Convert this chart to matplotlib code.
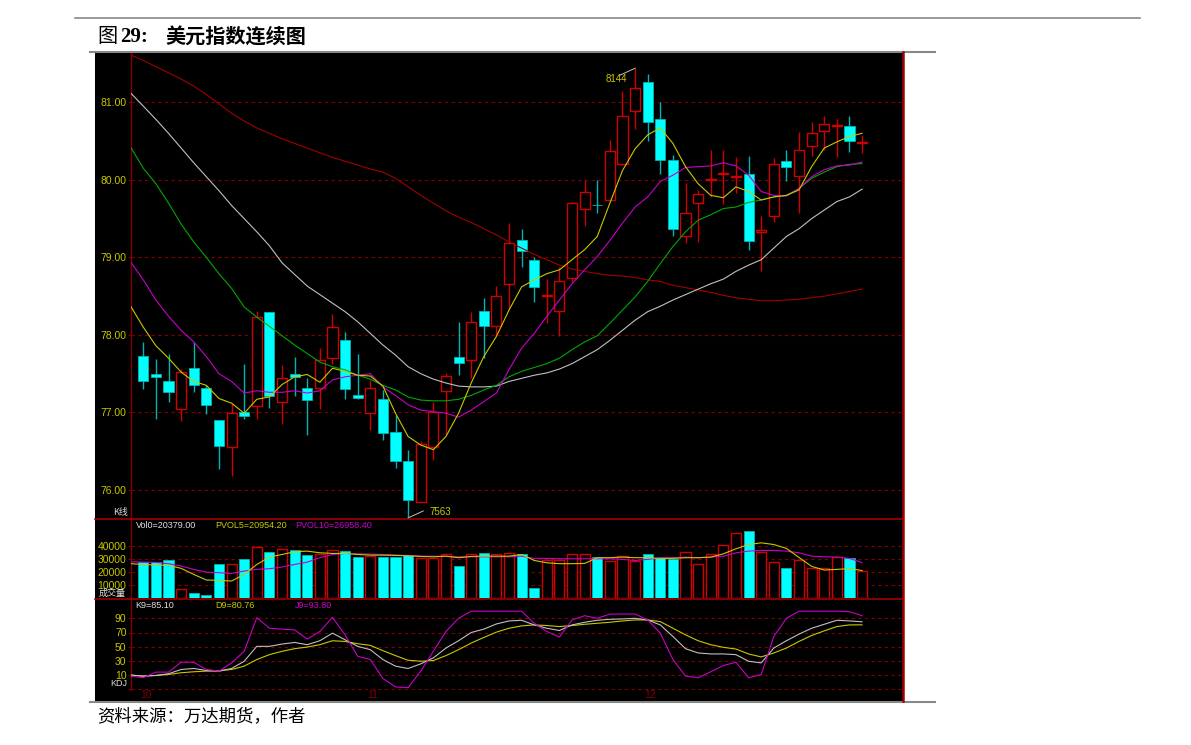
import matplotlib
matplotlib.use('Agg')
import matplotlib.pyplot as plt
import numpy as np
from matplotlib.patches import Rectangle
from matplotlib.lines import Line2D

W, H = 1191, 745
CJK = ['Noto Sans CJK SC', 'DejaVu Sans']
LAT = 'Liberation Sans'

# ---- Data ----
opens = [77.73, 77.49, 77.40, 77.05, 77.57, 77.32, 76.90, 76.55, 77.00, 77.08,
         78.30, 77.13, 77.50, 77.31, 77.32, 77.70, 77.94, 77.22, 76.99, 77.17,
         76.75, 76.37, 75.84, 76.56, 77.28, 77.72, 77.68, 78.31, 78.12, 78.66,
         79.23, 78.96, 78.50, 78.31, 78.73, 79.62, 79.68, 79.74, 80.20, 80.89,
         81.26, 80.78, 80.26, 79.28, 79.70, 80.00, 80.07, 80.04, 80.08, 79.33,
         79.53, 80.24, 80.05, 80.44, 80.63, 80.70, 80.70, 80.47]
highs = [77.91, 77.69, 77.75, 77.56, 77.91, 77.35, 76.90, 77.12, 77.62, 78.31,
         78.30, 77.61, 77.72, 77.44, 77.83, 78.27, 78.04, 77.75, 77.42, 77.29,
         76.97, 76.51, 76.63, 77.14, 77.51, 78.17, 78.29, 78.48, 78.63, 79.45,
         79.36, 79.01, 78.72, 78.88, 79.72, 80.00, 80.00, 80.51, 81.14, 81.44,
         81.36, 81.00, 80.32, 79.96, 79.87, 80.39, 80.39, 80.30, 80.31, 79.53,
         80.28, 80.38, 80.62, 80.75, 80.83, 80.78, 80.83, 80.58]
lows = [77.30, 76.91, 77.14, 76.89, 77.26, 76.98, 76.27, 76.18, 76.92, 76.92,
        77.06, 76.85, 77.21, 76.71, 77.05, 77.63, 77.18, 77.17, 76.78, 76.65,
        76.28, 75.63, 75.84, 76.39, 76.71, 77.48, 77.44, 77.70, 78.00, 78.34,
        78.87, 78.43, 78.16, 77.98, 78.68, 79.40, 79.57, 79.74, 80.19, 80.66,
        80.50, 80.08, 79.28, 79.19, 79.20, 79.78, 79.69, 79.83, 79.10, 78.83,
        79.46, 79.98, 79.57, 80.31, 80.39, 80.29, 80.36, 80.35]
closes = [77.40, 77.46, 77.27, 77.52, 77.35, 77.09, 76.57, 76.99, 76.95, 78.23,
          77.21, 77.45, 77.46, 77.16, 77.68, 78.10, 77.30, 77.19, 77.31, 76.73,
          76.37, 75.87, 76.59, 77.01, 77.47, 77.64, 78.17, 78.11, 78.50, 79.19,
          79.08, 78.62, 78.52, 78.70, 79.70, 79.84, 79.67, 80.37, 80.82, 81.19,
          80.75, 80.26, 79.37, 79.57, 79.82, 80.01, 80.08, 80.05, 79.21, 79.35,
          80.21, 80.16, 80.39, 80.60, 80.72, 80.71, 80.50, 80.48]

# moving averages, first value sits on the left axis (one bar before the first candle)
ma5 = [78.37, 78.10, 77.86, 77.70, 77.52, 77.40, 77.35, 77.18, 77.12, 76.99,
       77.17, 77.20, 77.36, 77.46, 77.49, 77.39, 77.57, 77.53, 77.48, 77.47,
       77.34, 76.99, 76.69, 76.58, 76.52, 76.69, 76.99, 77.38, 77.72, 77.98,
       78.32, 78.62, 78.71, 78.79, 78.84, 78.97, 79.10, 79.27, 79.70, 80.12,
       80.40, 80.58, 80.67, 80.47, 80.17, 79.95, 79.80, 79.77, 79.91, 79.85,
       79.74, 79.78, 79.80, 79.87, 80.17, 80.41, 80.49, 80.56, 80.60]
ma10 = [78.94, 78.71, 78.45, 78.24, 78.06, 77.91, 77.72, 77.50, 77.40, 77.25,
        77.28, 77.26, 77.26, 77.28, 77.25, 77.28, 77.42, 77.46, 77.48, 77.50,
        77.33, 77.22, 77.10, 77.03, 77.01, 76.99, 76.94, 77.03, 77.14, 77.25,
        77.55, 77.83, 78.02, 78.24, 78.45, 78.66, 78.84, 79.01, 79.22, 79.44,
        79.65, 79.78, 79.98, 80.06, 80.16, 80.17, 80.18, 80.22, 80.18, 80.06,
        79.85, 79.80, 79.79, 79.89, 80.04, 80.13, 80.18, 80.19, 80.23]
ma20 = [80.42, 80.15, 79.95, 79.70, 79.43, 79.20, 79.00, 78.79, 78.60, 78.36,
        78.23, 78.11, 77.99, 77.87, 77.76, 77.65, 77.59, 77.55, 77.48, 77.43,
        77.35, 77.29, 77.20, 77.16, 77.15, 77.15, 77.17, 77.22, 77.29, 77.35,
        77.46, 77.53, 77.58, 77.63, 77.70, 77.81, 77.91, 77.99, 78.15, 78.32,
        78.49, 78.69, 78.92, 79.14, 79.33, 79.48, 79.55, 79.63, 79.65, 79.71,
        79.74, 79.78, 79.80, 79.89, 80.02, 80.10, 80.17, 80.20, 80.21]
ma30 = [81.12, 80.95, 80.78, 80.60, 80.41, 80.22, 80.04, 79.86, 79.67, 79.50,
        79.33, 79.15, 78.93, 78.78, 78.63, 78.52, 78.41, 78.30, 78.17, 78.02,
        77.87, 77.74, 77.59, 77.50, 77.43, 77.38, 77.34, 77.33, 77.33, 77.34,
        77.40, 77.44, 77.48, 77.51, 77.56, 77.63, 77.72, 77.81, 77.93, 78.06,
        78.19, 78.30, 78.37, 78.45, 78.52, 78.59, 78.66, 78.72, 78.82, 78.90,
        78.97, 79.12, 79.27, 79.37, 79.50, 79.61, 79.72, 79.78, 79.88]
ma60 = [81.61, 81.54, 81.46, 81.38, 81.30, 81.21, 81.10, 80.98, 80.86, 80.76,
        80.67, 80.60, 80.53, 80.47, 80.41, 80.35, 80.29, 80.24, 80.19, 80.14,
        80.10, 80.02, 79.91, 79.80, 79.70, 79.60, 79.52, 79.45, 79.37, 79.29,
        79.20, 79.12, 79.04, 78.97, 78.90, 78.85, 78.82, 78.79, 78.77, 78.76,
        78.74, 78.71, 78.69, 78.64, 78.61, 78.58, 78.55, 78.51, 78.48, 78.46,
        78.44, 78.44, 78.45, 78.46, 78.48, 78.50, 78.53, 78.56, 78.59]

volume = [27700, 27700, 28700, 6400, 3300, 1800, 26200, 26200, 29500, 39200,
          35400, 37700, 36400, 32800, 33300, 36400, 35900, 31500, 32100, 31500,
          31500, 32800, 30800, 30800, 33800, 24400, 33800, 34100, 33800, 34600,
          33300, 7200, 29000, 29000, 33300, 33800, 31300, 28200, 32100, 28200,
          33300, 30800, 30000, 35100, 25600, 33300, 41000, 50000, 51800, 35400,
          27700, 23100, 29000, 23100, 22600, 31500, 30300, 20379]
pvol5 = [26200, 25600, 25100, 24900, 22600, 17900, 13600, 13300, 12800, 17900,
         25600, 31300, 33300, 35400, 35900, 34600, 34100, 34100, 33300, 32800,
         32800, 32600, 32300, 31800, 31500, 32000, 30800, 31800, 32000, 32000,
         32000, 33300, 28700, 26900, 26200, 26200, 26400, 30800, 30800, 31300,
         30800, 30800, 30300, 30300, 30800, 30800, 31300, 33800, 37700, 41000,
         42300, 41000, 38000, 31000, 24100, 21300, 21800, 22400, 20954]
pvol10 = [27700, 27400, 27200, 26200, 24400, 21800, 19700, 19200, 18700, 20500,
          21800, 22300, 23600, 25600, 27400, 30800, 33300, 34100, 33800, 33600,
          33300, 32800, 32600, 32000, 32000, 31800, 31500, 31500, 31500, 31500,
          31500, 32000, 30300, 30300, 30000, 30000, 30000, 30000, 30000, 29500,
          28700, 29500, 30800, 30800, 31300, 30800, 31300, 32000, 34600, 35900,
          36400, 36400, 35900, 34600, 32000, 31500, 31300, 30300, 26958]

k_line = [10.0, 8.6, 9.5, 11.9, 17.9, 19.3, 16.5, 15.6, 19.3, 29.5,
          50.5, 50.5, 53.7, 56.0, 52.8, 58.4, 69.1, 59.8, 50.5, 45.8,
          31.9, 22.6, 19.3, 25.8, 34.2, 48.1, 58.4, 70.0, 74.7, 82.0,
          86.3, 87.2, 80.7, 76.0, 72.8, 80.7, 84.4, 87.2, 88.6, 89.1,
          90.0, 87.7, 80.7, 64.4, 47.2, 41.2, 39.8, 39.8, 38.8, 29.5,
          27.2, 48.1, 58.4, 67.7, 76.0, 81.6, 87.2, 86.3, 85.1]
d_line = [10.0, 8.6, 9.5, 10.9, 13.3, 14.7, 15.6, 16.0, 17.9, 22.6,
          31.9, 38.8, 43.5, 47.2, 49.5, 52.8, 58.4, 57.4, 54.2, 51.9,
          44.4, 37.4, 30.9, 29.5, 30.5, 37.4, 45.8, 55.1, 63.0, 70.5,
          76.0, 79.3, 80.7, 79.8, 78.4, 79.8, 81.6, 83.0, 84.4, 86.3,
          87.7, 87.7, 85.3, 76.0, 66.7, 58.4, 52.8, 49.1, 46.7, 39.8,
          35.6, 41.2, 48.1, 57.4, 65.8, 72.3, 78.4, 80.7, 80.8]
j_line = [8.6, 6.3, 14.2, 14.2, 28.1, 28.1, 17.9, 15.6, 27.2, 43.5,
          90.9, 76.0, 74.7, 73.7, 60.7, 71.4, 91.4, 66.7, 36.5, 31.9,
          5.3, -6.7, -7.7, 15.6, 43.5, 71.4, 90.0, 100.0, 100.0, 100.0,
          100.0, 100.0, 83.0, 71.4, 63.5, 87.7, 93.7, 90.0, 96.0, 96.0,
          96.0, 87.7, 69.1, 31.9, 8.6, 6.3, 14.7, 23.5, 28.1, 6.3,
          10.9, 64.4, 90.0, 100.0, 100.0, 100.0, 100.0, 99.3, 93.8]

month_labels = ['10', '11', '12']
month_pos = [0, 18, 40]

# ---- Colours ----
RED = '#d00000'
DRED = '#800000'
CYAN = '#00ffff'
TEAL = '#00b4b4'
YEL = '#c8c800'
MAG = '#c800c8'
GRN = '#00a800'
GRY = '#c0c0c0'
LW = 0.8


def fx(px):
    return px / W


def fy(py):
    return 1 - py / H


def ftext(px, py, s, **kw):
    fig.text(fx(px), fy(py), s, **kw)


def fline(x0, y0, x1, y1, **kw):
    fig.add_artist(Line2D([fx(x0), fx(x1)], [fy(y0), fy(y1)], **kw))


fig = plt.figure(figsize=(W / 100, H / 100), dpi=100)
fig.patch.set_facecolor('white')

# black chart area
fig.add_artist(Rectangle((fx(95), fy(701)), fx(903) - fx(95), fy(52) - fy(701),
                         facecolor='black', edgecolor='none', zorder=0))

# frame lines of the report
fline(75, 18, 1140, 18, color='#888888', lw=1.2)
fline(90, 51.5, 935, 51.5, color='#888888', lw=1.5)
fline(90, 702, 935, 702, color='#888888', lw=1.5)

ftext(97, 37, '图', fontsize=14.5, family=CJK, va='center')
ftext(120, 37, '29:', fontsize=15, family='Liberation Serif', weight='bold', va='center')
ftext(165, 37, '美元指数连续图', fontsize=14.5, family=CJK, weight='bold', va='center')
ftext(97, 716, '资料来源：万达期货，作者', fontsize=12.5, family=CJK, va='center')

X0, X1 = 130.7, 903
xlim = (-1, (X1 - 143.3) / 12.61)


def make_ax(top, bottom):
    ax = fig.add_axes([fx(X0), fy(bottom), fx(X1) - fx(X0), fy(top) - fy(bottom)])
    ax.set_facecolor('black')
    ax.set_xlim(*xlim)
    for s in ['top', 'right', 'bottom']:
        ax.spines[s].set_visible(False)
    ax.spines['left'].set_color(DRED)
    ax.spines['left'].set_linewidth(1.0)
    ax.set_xticks([])
    ax.tick_params(axis='y', colors=DRED, labelcolor=YEL, length=2, width=0.8,
                   labelsize=7.5, pad=1)
    ax.grid(axis='y', color=DRED, linestyle=(0, (3, 3)), linewidth=0.8)
    ax.set_axisbelow(True)
    return ax


# ---- Price panel ----
ax1 = make_ax(52, 519)
ax1.set_ylim(75.626, 81.649)
ax1.set_yticks([76, 77, 78, 79, 80, 81])
ax1.set_yticklabels(['%.2f' % v for v in [76, 77, 78, 79, 80, 81]], family=LAT)

o = np.array(opens)
h = np.array(highs)
l = np.array(lows)
c = np.array(closes)
x = np.arange(len(o))
up = c >= o
bot = np.minimum(o, c)
hgt = np.maximum(np.abs(c - o), 0.012)

ax1.vlines(x[up], l[up], h[up], color=RED, lw=1.0, zorder=2)
ax1.bar(x[up], hgt[up], bottom=bot[up], width=0.8, facecolor='black',
        edgecolor=RED, lw=1.0, zorder=3)
ax1.vlines(x[~up], l[~up], h[~up], color=TEAL, lw=1.0, zorder=2)
ax1.bar(x[~up], hgt[~up], bottom=bot[~up], width=0.8, facecolor=CYAN,
        edgecolor=TEAL, lw=0.6, zorder=3)

xm = np.arange(-1, len(o))
ax1.plot(xm, ma60, color='#a00000', lw=LW, zorder=4)
ax1.plot(xm, ma30, color=GRY, lw=LW, zorder=4)
ax1.plot(xm, ma20, color=GRN, lw=LW, zorder=4)
ax1.plot(xm, ma10, color=MAG, lw=LW, zorder=4)
ax1.plot(xm, ma5, color=YEL, lw=LW, zorder=4)

# high / low markers
ax1.plot([37.8, 39.0], [81.35, 81.44], color=GRY, lw=0.7, zorder=5)
ax1.text(38.4, 81.30, '8144', color=YEL, fontsize=7, family=LAT, ha='right', va='center')
ax1.plot([21.0, 22.2], [75.64, 75.73], color=GRY, lw=0.7, zorder=5)
ax1.text(22.7, 75.72, '7563', color=YEL, fontsize=7, family=LAT, ha='left', va='center')

# ---- Volume panel ----
ax2 = make_ax(519, 598)
ax2.set_ylim(-300, 60700)
ax2.set_yticks([10000, 20000, 30000, 40000])
ax2.set_yticklabels(['10000', '20000', '30000', '40000'], family=LAT)
v = np.array(volume)
ax2.bar(x[up], v[up], width=0.8, facecolor='black', edgecolor=RED, lw=1.0, zorder=3)
ax2.bar(x[~up], v[~up], width=0.8, facecolor=CYAN, edgecolor=TEAL, lw=0.6, zorder=3)
ax2.plot(xm, pvol10, color=MAG, lw=LW, zorder=4)
ax2.plot(xm, pvol5, color=YEL, lw=LW, zorder=4)

# ---- KDJ panel ----
ax3 = make_ax(598, 690)
ax3.set_ylim(-11, 118.6)
ax3.set_yticks([-10, 10, 30, 50, 70, 90])
ax3.set_yticklabels(['', '10', '30', '50', '70', '90'], family=LAT)
ax3.plot(xm, d_line, color=YEL, lw=LW, zorder=4)
ax3.plot(xm, k_line, color=GRY, lw=LW, zorder=4)
ax3.plot(xm, j_line, color=MAG, lw=LW, zorder=4)
for lab, pos in zip(month_labels, month_pos):
    ax3.text(pos + 0.2, -18, lab, color=DRED, fontsize=7.5, family=LAT,
             ha='center', va='center', clip_on=False)

# separators and right border
fline(95, 519, 903, 519, color='#a00000', lw=1.2)
fline(95, 598.5, 903, 598.5, color='#a00000', lw=1.2)
fline(903, 52, 903, 701, color='#a00000', lw=1.8)

# panel captions
ftext(113, 513, 'K线', color='#d8d8d8', fontsize=6.5, family=CJK, va='center')
ftext(135.5, 526, 'Vol0=20379.00', color='#e0e0e0', fontsize=6.5, family=LAT, va='center')
ftext(215.5, 526, 'PVOL5=20954.20', color=YEL, fontsize=6.5, family=LAT, va='center')
ftext(295, 526, 'PVOL10=26958.40', color=MAG, fontsize=6.5, family=LAT, va='center')
ftext(99, 593.5, '成交量', color='#e0e0e0', fontsize=6.5, family=CJK, va='center')
ftext(135.5, 605.5, 'K9=85.10', color='#e0e0e0', fontsize=6.5, family=LAT, va='center')
ftext(215.5, 605.5, 'D9=80.76', color=YEL, fontsize=6.5, family=LAT, va='center')
ftext(295, 605.5, 'J9=93.80', color=MAG, fontsize=6.5, family=LAT, va='center')
ftext(110, 684, 'KDJ', color='#d8d8d8', fontsize=6.5, family=LAT, va='center')

fig.savefig('out.png', dpi=100, facecolor='white')
